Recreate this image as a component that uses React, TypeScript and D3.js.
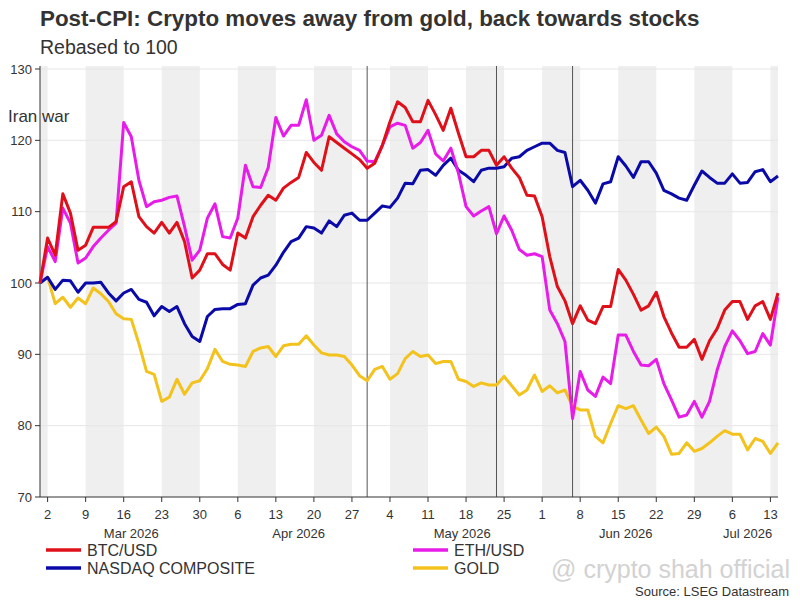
import React, { useRef, useEffect } from 'react'
import * as d3 from 'd3'

// business days from Fri 27 Feb 2026 to Tue 14 Jul 2026 (index 0..97)
const startDate = new Date(2026, 1, 27)
const endDate = new Date(2026, 6, 15)

const btc = [
  100, 106.3, 103.9, 112.5, 109.8, 104.6, 105.3, 107.8, 107.8, 107.8, 108.6, 113.5, 114.2, 109.3, 107.9, 107.0, 108.5, 107.0, 108.5, 105.8, 100.7, 101.8, 104.1, 104.1, 102.6,
  101.8, 107.0, 106.3, 109.3, 110.9, 112.3, 111.6, 113.3, 114.1, 114.8, 118.3, 116.9, 115.8, 120.5, 119.7, 118.9, 118.1, 117.3, 116.1, 116.8, 119.3, 122.6, 125.4, 124.6,
  122.6, 122.6, 125.6, 123.6, 121.4, 124.5, 121.0, 117.7, 117.7, 118.6, 118.6, 116.5, 117.7, 116.1, 114.8, 112.3, 112.2, 109.3, 103.7, 99.5, 97.5, 94.3, 96.8,
  94.8, 94.3, 96.7, 96.7, 101.9, 100.4, 98.4, 96.2, 96.8, 98.7, 95.3, 93.0, 91.0, 91.0, 92.1, 89.3, 91.9, 93.6, 96.2, 97.4, 97.4, 94.9, 96.8, 97.4, 94.9, 98.6
]

const eth = [
  100, 105.1, 103.0, 110.5, 108.4, 102.8, 103.5, 105.1, 106.3, 107.4, 108.4, 122.5, 120.5, 114.4, 110.7, 111.4, 111.6, 112.0, 112.2, 107.9, 103.2, 104.6, 109.1, 111.1, 106.5,
  106.3, 109.1, 116.5, 113.5, 113.4, 116.2, 123.2, 120.6, 122.1, 122.1, 125.7, 120.0, 120.7, 123.5, 120.9, 119.8, 119.1, 118.6, 117.1, 117.0, 119.3, 121.9, 122.4, 122.1,
  118.9, 119.7, 121.4, 118.1, 117.1, 118.9, 115.4, 110.7, 109.4, 110.1, 110.7, 106.9, 109.4, 107.4, 104.7, 103.9, 104.1, 103.7, 96.2, 94.3, 91.8, 81.0, 87.6,
  85.0, 84.1, 86.8, 85.9, 92.7, 92.7, 90.4, 88.5, 88.4, 89.3, 85.9, 83.6, 81.2, 81.5, 83.4, 81.2, 83.4, 87.8, 91.1, 93.3, 91.9, 90.1, 90.4, 92.9, 91.3, 98.0
]

const nasdaq = [
  100, 100.8, 99.1, 100.4, 100.3, 98.7, 100, 100, 100.1, 98.6, 97.5, 98.6, 99.1, 97.7, 97.3, 95.4, 96.7, 96.0, 96.7, 94.3, 92.5, 91.8, 95.3, 96.3, 96.4,
  96.4, 97.0, 97.1, 99.7, 100.7, 101.1, 102.5, 104.3, 105.8, 106.3, 107.9, 107.7, 107.0, 108.7, 107.9, 109.5, 109.8, 108.8, 108.8, 109.8, 110.8, 110.6, 111.9, 114.0,
  113.9, 115.8, 115.9, 115.1, 116.5, 117.5, 115.8, 115.1, 114.2, 115.8, 116.1, 116.1, 116.3, 117.5, 117.7, 118.6, 119.1, 119.6, 119.6, 118.6, 118.3, 113.5, 114.4,
  113.0, 111.2, 113.9, 114.2, 117.7, 116.4, 114.8, 117.0, 117.0, 115.4, 113.0, 112.5, 111.9, 111.6, 113.7, 115.7, 114.8, 114.0, 114.0, 115.3, 114.0, 114.1, 115.6, 115.9, 114.2, 115.0
]

const gold = [
  100, 100.8, 97.1, 98.0, 96.6, 97.9, 97.1, 99.3, 98.5, 97.4, 95.7, 95.0, 94.9, 91.5, 87.6, 87.2, 83.4, 84.0, 86.5, 84.4, 86.0, 86.3, 88.0, 90.7, 89.0,
  88.6, 88.5, 88.3, 90.4, 90.9, 91.1, 89.7, 91.2, 91.4, 91.4, 92.6, 91.3, 90.2, 89.9, 89.9, 89.7, 88.5, 87.0, 86.3, 87.9, 88.3, 86.5, 87.3, 89.4,
  90.4, 89.7, 89.9, 88.7, 89.0, 89.0, 86.5, 86.2, 85.5, 86.0, 85.7, 85.7, 86.9, 85.6, 84.3, 85.0, 87.1, 84.8, 85.6, 84.6, 85.0, 82.7, 82.2,
  82.2, 78.5, 77.6, 80.3, 82.8, 82.4, 82.8, 80.8, 78.9, 79.8, 78.5, 76.0, 76.1, 77.6, 76.4, 76.8, 77.6, 78.5, 79.3, 78.8, 78.8, 76.6, 78.2, 77.8, 76.1, 77.6
]

const series = [
  { name: 'GOLD', color: '#f3c21c', values: gold },
  { name: 'NASDAQ COMPOSITE', color: '#0a0aa8', values: nasdaq },
  { name: 'ETH/USD', color: '#e81ce8', values: eth },
  { name: 'BTC/USD', color: '#e0101a', values: btc }
]

const legendOrder = ['BTC/USD', 'ETH/USD', 'NASDAQ COMPOSITE', 'GOLD']

// post-CPI marker dates
const eventDates = [new Date(2026, 3, 29), new Date(2026, 4, 22), new Date(2026, 5, 5)]

const yTicks = [70, 80, 90, 100, 110, 120, 130]

const FONT = '"Liberation Sans", Arial, sans-serif'

const App: React.FC = () => {
  const svgRef = useRef<SVGSVGElement>(null)
  const width = 800
  const height = 600

  useEffect(() => {
    if (!svgRef.current) return
    const svg = d3.select(svgRef.current)
    svg.selectAll('*').remove()

    const days = d3.timeDay.range(startDate, endDate).filter(d => d.getDay() !== 0 && d.getDay() !== 6)
    const idxOf = (d: Date) => days.findIndex(x => +x === +d)

    const left = 40, right = 778, top = 66, bottom = 497
    const x = d3.scaleLinear().domain([0, days.length - 1]).range([left, right])
    const y = d3.scaleLinear().domain([70, 130]).range([bottom, 69])

    const mondays = days.map((d, i) => ({ d, i })).filter(o => o.d.getDay() === 1)

    // alternating weekly shading
    const bands = svg.append('g')
    const weekStarts = [0, ...mondays.map(m => m.i)]
    weekStarts.forEach((s, k) => {
      const e = k + 1 < weekStarts.length ? weekStarts[k + 1] : days.length - 1
      const monday = d3.timeMonday.floor(days[s])
      const weekNo = Math.round((+monday - +d3.timeMonday.floor(startDate)) / (7 * 864e5))
      if (weekNo % 2 !== 0) return
      bands.append('rect')
        .attr('x', x(s)).attr('y', top)
        .attr('width', Math.max(0, x(e) - x(s)))
        .attr('height', bottom - top)
        .attr('fill', '#efefef')
    })

    // grid
    svg.append('g').selectAll('line').data(yTicks.slice(1)).enter().append('line')
      .attr('x1', left).attr('x2', right)
      .attr('y1', d => y(d)).attr('y2', d => y(d))
      .attr('stroke', '#e6e6e6').attr('stroke-width', 1)

    // event lines
    svg.append('g').selectAll('line').data(eventDates).enter().append('line')
      .attr('x1', d => x(idxOf(d))).attr('x2', d => x(idxOf(d)))
      .attr('y1', top).attr('y2', bottom)
      .attr('stroke', '#555').attr('stroke-width', 1)

    // y axis
    const yAxis = svg.append('g')
    yAxis.append('line').attr('x1', left).attr('x2', left).attr('y1', top).attr('y2', bottom)
      .attr('stroke', '#333')
    yTicks.forEach(t => {
      yAxis.append('line').attr('x1', left - 5).attr('x2', left).attr('y1', y(t)).attr('y2', y(t)).attr('stroke', '#333')
      yAxis.append('text').text(t).attr('x', left - 8).attr('y', y(t)).attr('dy', '0.35em')
        .attr('text-anchor', 'end').attr('font-size', 13).attr('fill', '#333').attr('font-family', FONT)
    })

    // x axis
    const xAxis = svg.append('g')
    xAxis.append('line').attr('x1', left).attr('x2', right).attr('y1', bottom).attr('y2', bottom).attr('stroke', '#333')
    mondays.forEach(m => {
      xAxis.append('line').attr('x1', x(m.i)).attr('x2', x(m.i)).attr('y1', bottom).attr('y2', bottom + 5).attr('stroke', '#333')
      xAxis.append('text').text(m.d.getDate()).attr('x', x(m.i)).attr('y', bottom + 22)
        .attr('text-anchor', 'middle').attr('font-size', 13).attr('fill', '#333').attr('font-family', FONT)
    })
    const months = d3.groups(days.map((d, i) => ({ d, i })), o => o.d.getMonth())
      .filter(([, arr]) => arr.length > 3)
    months.forEach(([, arr]) => {
      const mid = (arr[0].i + arr[arr.length - 1].i + 1) / 2
      xAxis.append('text').text(d3.timeFormat('%b %Y')(arr[0].d)).attr('x', x(mid)).attr('y', bottom + 41)
        .attr('text-anchor', 'middle').attr('font-size', 13).attr('fill', '#333').attr('font-family', FONT)
    })

    // lines
    const line = d3.line<number>().x((_, i) => x(i)).y(d => y(d))
    svg.append('g').selectAll('path').data(series).enter().append('path')
      .attr('d', d => line(d.values))
      .attr('fill', 'none')
      .attr('stroke', d => d.color)
      .attr('stroke-width', 3)
      .attr('stroke-linejoin', 'round')

    // annotation
    svg.append('text').text('Iran war').attr('x', 8).attr('y', 122)
      .attr('font-size', 17).attr('fill', '#333').attr('font-family', FONT)

    // titles
    svg.append('text').text('Post-CPI: Crypto moves away from gold, back towards stocks')
      .attr('x', 40).attr('y', 26).attr('font-size', 22.4).attr('font-weight', 'bold')
      .attr('fill', '#333').attr('font-family', FONT)
    svg.append('text').text('Rebased to 100')
      .attr('x', 40).attr('y', 54).attr('font-size', 19.5)
      .attr('fill', '#333').attr('font-family', FONT)

    // legend
    const legend = svg.append('g')
    legendOrder.forEach((name, k) => {
      const s = series.find(o => o.name === name)!
      const lx = k % 2 === 0 ? 46 : 413
      const ly = k < 2 ? 550 : 568
      legend.append('line').attr('x1', lx).attr('x2', lx + 35).attr('y1', ly).attr('y2', ly)
        .attr('stroke', s.color).attr('stroke-width', 3.5)
      legend.append('text').text(name).attr('x', lx + 41).attr('y', ly).attr('dy', '0.36em')
        .attr('font-size', 16).attr('fill', '#333').attr('font-family', FONT)
    })

    // watermark and source
    svg.append('text').text('@ crypto shah official').attr('x', 790).attr('y', 578)
      .attr('text-anchor', 'end').attr('font-size', 25).attr('fill', '#d2d2d2').attr('font-family', FONT)
    svg.append('text').text('Source: LSEG Datastream').attr('x', 789).attr('y', 596)
      .attr('text-anchor', 'end').attr('font-size', 13).attr('fill', '#333').attr('font-family', FONT)
  }, [])

  return (
    <svg ref={svgRef} width={width} height={height}
      style={{ position: 'absolute', left: 0, top: 0, background: '#fff' }} />
  )
}

export default App
